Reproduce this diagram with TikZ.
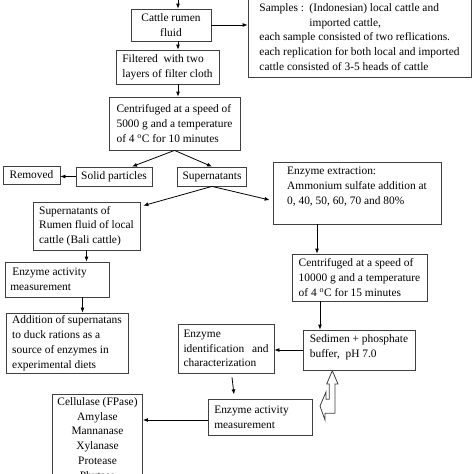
\documentclass[tikz,border=0pt]{standalone}
\usepackage{fontspec}
\setmainfont{Liberation Serif}
\usetikzlibrary{arrows.meta,calc}

\begin{document}
\begin{tikzpicture}[x=1pt,y=-1pt,
    box/.style={draw=black!75,line width=0.8pt,inner xsep=5pt,inner ysep=2pt,align=left,
      font=\fontsize{11.4}{14.8}\selectfont},
    arr/.style={-{Latex[length=5pt,width=4pt]},line width=0.8pt}]
    \useasboundingbox (0,0) rectangle (474,474);
    \clip (0,0) rectangle (474,474);

    % top of the flow
    \node[box,align=center,minimum width=80pt,minimum height=32pt] (rumen) at (171,25) {Cattle rumen\\fluid};
    \node[box,minimum width=223pt,minimum height=80pt] (samples) at (359.5,37)
      {\makebox[50pt][l]{Samples :}(Indonesian) local cattle and\\
       \hspace*{50pt}imported cattle,\\
       each sample consisted of two reflications.\\
       each replication for both local and imported\\
       cattle consisted of 3-5 heads of cattle};
    \node[box,minimum width=103pt,minimum height=34pt] (filtered) at (167.5,67) {Filtered\ \ with two\\layers of filter cloth};
    \node[box,minimum width=131pt,minimum height=53pt] (cent1) at (174.5,123.5)
      {Centrifuged at a speed of\\5000 g and a temperature\\of 4 \textsuperscript{o}C for 10 minutes};

    % separation
    \node[box,align=center,minimum width=76pt,minimum height=19pt] (solid) at (114,176.5) {Solid particles};
    \node[box,align=center,minimum width=57pt,minimum height=18pt] (removed) at (31.5,175) {Removed};
    \node[box,align=center,minimum width=68pt,minimum height=19pt] (supern) at (212,176.5) {Supernatants};

    % local cattle branch
    \node[box,minimum width=107pt,minimum height=48pt] (suprum) at (86.5,226)
      {Supernatants of\\Rumen fluid of local\\cattle (Bali cattle)};
    \node[box,minimum width=103pt,minimum height=35pt] (act1) at (57.5,279.5) {\hspace*{2pt}Enzyme activity\hspace*{18pt}\\measurement};
    \node[box,minimum width=122pt,minimum height=60pt] (addition) at (67,343)
      {Addition of supernatans\\to duck rations as a\\source of enzymes in\\experimental diets};

    % extraction branch
    \node[box,minimum width=168pt,minimum height=62pt] (extract) at (357,193)
      {Enzyme extraction:\hspace*{14pt}\\Ammonium sulfate addition at\\0, 40, 50, 60, 70 and 80\%\\ \mbox{}};
    \node[box,minimum width=135pt,minimum height=47pt] (cent2) at (359.5,277.5)
      {Centrifuged at a speed of\\10000 g and a temperature\\of 4 \textsuperscript{o}C for 15 minutes};
    \node[box,minimum width=112pt,minimum height=40pt] (sedimen) at (359,350)
      {Sedimen + phosphate\\buffer,\ \ pH 7.0\\[-7pt]\mbox{}};
    \node[box,minimum width=96pt,minimum height=49pt] (ident) at (226,348.5)
      {Enzyme\\\makebox[85pt][s]{identification and}\\characterization};
    \node[box,minimum width=104pt,minimum height=36pt] (act2) at (260,417) {Enzyme activity\hspace*{17pt}\\measurement};
    \node[box,align=center,minimum width=89pt,inner ysep=3pt,anchor=north] (enzymes) at (97.5,394)
      {Cellulase (FPase)\\Amylase\\Mannanase\\Xylanase\\Protease\\Phytase};

    % connectors
    \coordinate (feed) at (178,-2);
    \draw[arr] (feed) -- (feed |- rumen.north);
    \draw[arr] (rumen.south -| feed) -- (filtered.north -| feed);
    \draw[arr] (rumen.east) -- (samples.west |- rumen.east);
    \draw[arr] (filtered.south -| feed) -- (cent1.north -| feed);
    \draw[arr] (cent1.south) -- ([xshift=18pt]solid.north);
    \draw[arr] (cent1.south) -- (supern.north);
    \draw[arr] (solid.west) -- (removed.east |- solid.west);
    \draw[arr] (supern.south) -- ([xshift=3pt,yshift=-4pt]suprum.north east);
    \draw[arr] (supern.south) -- ([xshift=-3pt,yshift=-7pt]extract.west);
    \draw[arr] ([xshift=-40pt]extract.south) -- ([xshift=-40pt]extract.south |- cent2.north);
    \draw[arr] (suprum.south) -- (suprum.south |- act1.north);
    \draw[arr] ([xshift=25pt]act1.south) -- ([xshift=25pt]act1.south |- addition.north);
    \draw[arr] ([xshift=-39.5pt]cent2.south) -- ([xshift=-39.5pt]cent2.south |- sedimen.north);
    \draw[arr] (sedimen.west) -- (sedimen.west -| ident.east);
    \draw[arr] ([xshift=6pt,yshift=-4pt]ident.south) -- ([xshift=8pt,yshift=-21pt]ident.south);
    \draw[arr] ([yshift=-3pt]act2.west) -- ([yshift=-3pt]act2.west -| enzymes.east);

    % hollow return arrow under the sediment box
    \draw[draw=black!75,line width=0.8pt,fill=white] (332.3,370.7) -- (338,384) -- (335,384) -- (335,413.3)
      -- (325,413.3) -- (325,420) -- (320,406) -- (326,392) -- (326,399.3) -- (329.3,399.3)
      -- (329.3,384) -- (326.7,384) -- cycle;
\end{tikzpicture}
\end{document}
